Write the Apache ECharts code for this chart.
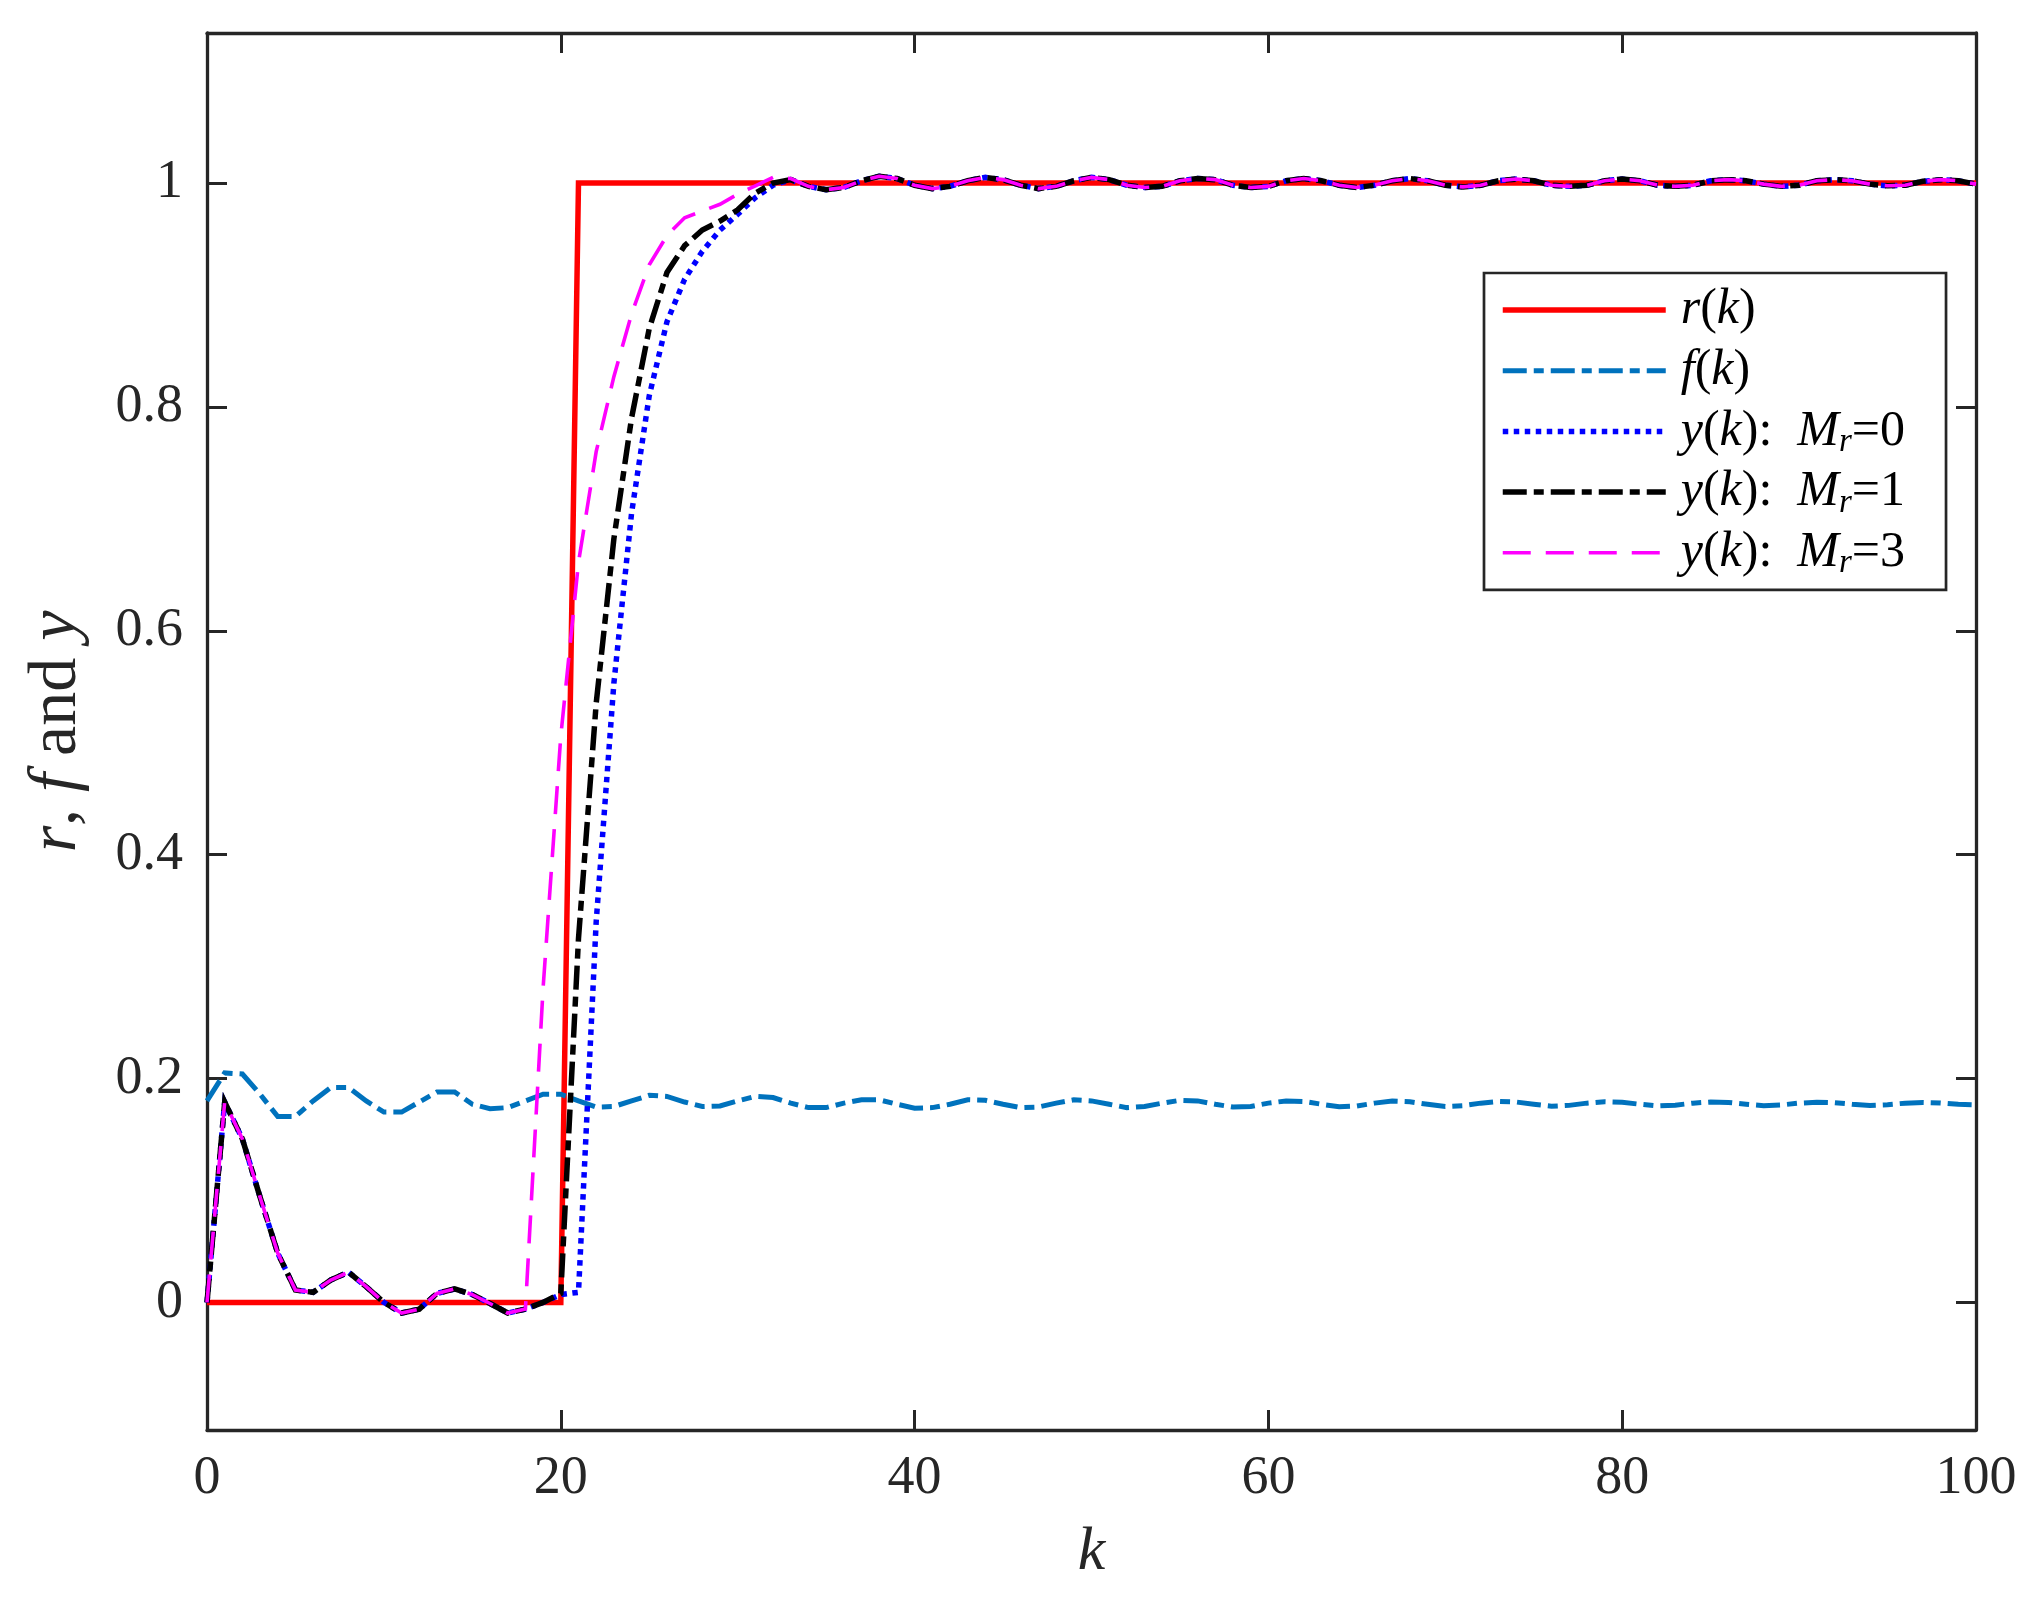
<!DOCTYPE html>
<html>
<head>
<meta charset="utf-8">
<script src="https://cdn.jsdelivr.net/npm/echarts@6/dist/echarts.min.js"></script>
<style>
html,body{margin:0;padding:0;background:#ffffff;}
#chart{width:2037px;height:1607px;}
</style>
</head>
<body>
<div id="chart"></div>
<script>
// ---------------- data ----------------
const kTickLabels = [0, 20, 40, 60, 80, 100];
const yTickLabels = [0, 0.2, 0.4, 0.6, 0.8, 1];

// r(k): reference step
const r = [
  0,0,0,0,0,0,0,0,0,0, 0,0,0,0,0,0,0,0,0,0, 0,
  1,1,1,1,1,1,1,1,1,1, 1,1,1,1,1,1,1,1,1,1,
  1,1,1,1,1,1,1,1,1,1, 1,1,1,1,1,1,1,1,1,1,
  1,1,1,1,1,1,1,1,1,1, 1,1,1,1,1,1,1,1,1,1,
  1,1,1,1,1,1,1,1,1,1, 1,1,1,1,1,1,1,1,1,1
];

// f(k)
const f = [
  0.180, 0.205, 0.204, 0.186, 0.166, 0.166, 0.180, 0.192, 0.192, 0.180,
  0.170, 0.170, 0.179, 0.188, 0.188, 0.177, 0.173, 0.174, 0.180, 0.186,
  0.186, 0.180, 0.1745, 0.175, 0.180, 0.185, 0.184, 0.179, 0.175, 0.1755,
  0.180, 0.184, 0.183, 0.178, 0.174, 0.174, 0.178, 0.181, 0.181, 0.177,
  0.1735, 0.174, 0.177, 0.181, 0.1805, 0.177, 0.174, 0.1745, 0.178, 0.181,
  0.180, 0.177, 0.174, 0.175, 0.178, 0.1805, 0.180, 0.177, 0.1745, 0.175,
  0.178, 0.180, 0.1795, 0.177, 0.1748, 0.1755, 0.178, 0.1798, 0.1792, 0.177,
  0.175, 0.1758, 0.178, 0.1795, 0.179, 0.177, 0.1752, 0.176, 0.178, 0.1793,
  0.1788, 0.177, 0.1755, 0.1762, 0.178, 0.179, 0.1786, 0.177, 0.1757, 0.1764,
  0.178, 0.1788, 0.1784, 0.177, 0.176, 0.1766, 0.178, 0.1786, 0.1782, 0.177,
  0.1765
];

// y(k), Mr = 0
const yMr0 = [
  0.000, 0.179, 0.146, 0.094, 0.044, 0.011, 0.009, 0.020, 0.027, 0.014,
  0.000, -0.0095, -0.006, 0.008, 0.012, 0.007, -0.001, -0.0095, -0.006, 0.000,
  0.007, 0.009, 0.340, 0.553, 0.705, 0.810, 0.876, 0.914, 0.939, 0.958,
  0.972, 0.987, 0.998, 1.003, 0.997, 0.994, 0.996, 1.002, 1.006, 1.004,
  0.998, 0.995, 0.997, 1.002, 1.005, 1.003, 0.998, 0.995, 0.997, 1.002,
  1.005, 1.003, 0.998, 0.996, 0.997, 1.002, 1.004, 1.003, 0.998, 0.996,
  0.997, 1.002, 1.004, 1.002, 0.998, 0.996, 0.998, 1.002, 1.004, 1.002,
  0.998, 0.9965, 0.998, 1.002, 1.0035, 1.002, 0.998, 0.997, 0.998, 1.002,
  1.0035, 1.002, 0.998, 0.997, 0.998, 1.002, 1.003, 1.002, 0.999, 0.997,
  0.998, 1.002, 1.003, 1.002, 0.999, 0.9975, 0.998, 1.0015, 1.003, 1.002,
  0.999
];

// y(k), Mr = 1
const yMr1 = [
  0.000, 0.179, 0.146, 0.094, 0.044, 0.011, 0.009, 0.020, 0.027, 0.014,
  0.000, -0.0095, -0.006, 0.008, 0.012, 0.007, -0.001, -0.0095, -0.006, 0.000,
  0.008, 0.325, 0.535, 0.682, 0.790, 0.870, 0.920, 0.944, 0.958, 0.966,
  0.976, 0.991, 1.000, 1.003, 0.997, 0.994, 0.996, 1.002, 1.006, 1.004,
  0.998, 0.995, 0.997, 1.002, 1.005, 1.003, 0.998, 0.995, 0.997, 1.002,
  1.005, 1.003, 0.998, 0.996, 0.997, 1.002, 1.004, 1.003, 0.998, 0.996,
  0.997, 1.002, 1.004, 1.002, 0.998, 0.996, 0.998, 1.002, 1.004, 1.002,
  0.998, 0.9965, 0.998, 1.002, 1.0035, 1.002, 0.998, 0.997, 0.998, 1.002,
  1.0035, 1.002, 0.998, 0.997, 0.998, 1.002, 1.003, 1.002, 0.999, 0.997,
  0.998, 1.002, 1.003, 1.002, 0.999, 0.9975, 0.998, 1.0015, 1.003, 1.002,
  0.999
];

// y(k), Mr = 3
const yMr3 = [
  0.000, 0.179, 0.146, 0.094, 0.044, 0.011, 0.009, 0.020, 0.027, 0.014,
  0.000, -0.0095, -0.006, 0.008, 0.012, 0.007, -0.001, -0.0095, -0.006, 0.281,
  0.506, 0.661, 0.760, 0.827, 0.883, 0.927, 0.953, 0.969, 0.975, 0.981,
  0.990, 0.9975, 1.005, 1.004, 0.997, 0.994, 0.996, 1.002, 1.006, 1.004,
  0.998, 0.995, 0.997, 1.002, 1.005, 1.003, 0.998, 0.995, 0.997, 1.002,
  1.005, 1.003, 0.998, 0.996, 0.997, 1.002, 1.004, 1.003, 0.998, 0.996,
  0.997, 1.002, 1.004, 1.002, 0.998, 0.996, 0.998, 1.002, 1.004, 1.002,
  0.998, 0.9965, 0.998, 1.002, 1.0035, 1.002, 0.998, 0.997, 0.998, 1.002,
  1.0035, 1.002, 0.998, 0.997, 0.998, 1.002, 1.003, 1.002, 0.999, 0.997,
  0.998, 1.002, 1.003, 1.002, 0.999, 0.9975, 0.998, 1.0015, 1.003, 1.002,
  0.999
];

// ---------------- chart ----------------
const FONT = 'Liberation Serif';
const AX = '#262626';
const toPairs = arr => arr.map((v, i) => [i, v]);

const legendText = {
  r:  '\u2009{i|r}({i|k})',
  f:  '\u2009{i|f}({i|k})',
  y0: '\u2009{i|y}({i|k}):  {i|M}{s|r}=0',
  y1: '\u2009{i|y}({i|k}):  {i|M}{s|r}=1',
  y3: '\u2009{i|y}({i|k}):  {i|M}{s|r}=3'
};

const styles = {
  r:  { color: '#FF0000', width: 5.5, type: 'solid' },
  f:  { color: '#0072BD', width: 5,   type: [24, 7, 10, 7] },
  y0: { color: '#0000FF', width: 5.5, type: [5.5, 5.5] },
  y1: { color: '#000000', width: 5.5, type: [24, 7, 10, 7] },
  y3: { color: '#FF00FF', width: 3.6, type: [28, 15] }
};
const dataByName = { r: r, f: f, y0: yMr0, y1: yMr1, y3: yMr3 };
const order = ['r', 'f', 'y0', 'y1', 'y3'];

const fmtY = v => {
  for (const t of yTickLabels) { if (Math.abs(t - v) < 1e-6) return String(t); }
  return '';
};

const axisLineStyle = { color: AX, width: 3.3 };
const tickStyle = { show: true, inside: true, length: 20, lineStyle: { color: AX, width: 3 } };
const labelStyle = { fontFamily: FONT, fontSize: 54, color: AX };

const chart = echarts.init(document.getElementById('chart'), null, { renderer: 'canvas' });
chart.setOption({
  animation: false,
  backgroundColor: '#ffffff',
  grid: { left: 207, right: 61, top: 33, bottom: 177, containLabel: false },
  xAxis: [
    {
      type: 'value', position: 'bottom', min: 0, max: 100, interval: 20,
      axisLine: { show: true, onZero: false, lineStyle: axisLineStyle },
      axisTick: tickStyle,
      splitLine: { show: false },
      axisLabel: Object.assign({ margin: 22, formatter: v => (kTickLabels.indexOf(v) >= 0 ? String(v) : '') }, labelStyle),
      name: '{i|k}', nameLocation: 'middle', nameGap: 92,
      nameTextStyle: { fontFamily: FONT, fontSize: 62, color: AX,
        rich: { i: { fontFamily: FONT, fontSize: 62, fontStyle: 'italic', color: AX } } }
    },
    {
      type: 'value', position: 'top', min: 0, max: 100, interval: 20,
      axisLine: { show: true, onZero: false, lineStyle: axisLineStyle },
      axisTick: tickStyle,
      splitLine: { show: false },
      axisLabel: { show: false }
    }
  ],
  yAxis: [
    {
      type: 'value', position: 'left', min: -0.114, max: 1.134,
      minInterval: 0.2, maxInterval: 0.2,
      axisLine: { show: true, onZero: false, lineStyle: axisLineStyle },
      axisTick: tickStyle,
      splitLine: { show: false },
      axisLabel: Object.assign({ margin: 24, formatter: fmtY, showMinLabel: false, showMaxLabel: false }, labelStyle),
      name: '{i|r}, {i|f} and {i|y}', nameLocation: 'middle', nameGap: 116,
      nameTextStyle: { fontFamily: FONT, fontSize: 68, color: AX,
        rich: { i: { fontFamily: FONT, fontSize: 68, fontStyle: 'italic', color: AX } } }
    },
    {
      type: 'value', position: 'right', min: -0.114, max: 1.134,
      minInterval: 0.2, maxInterval: 0.2,
      axisLine: { show: true, onZero: false, lineStyle: axisLineStyle },
      axisTick: tickStyle,
      splitLine: { show: false },
      axisLabel: { show: false }
    }
  ],
  legend: {
    show: true,
    orient: 'vertical',
    left: 1484, top: 273,
    padding: [8, 41, 8, 16],
    itemGap: 2.7,
    itemWidth: 163,
    itemHeight: 14,
    backgroundColor: '#ffffff',
    borderColor: AX,
    borderWidth: 2.7,
    borderRadius: 0,
    data: order.map(n => ({
      name: n,
      itemStyle: { opacity: 0, color: 'rgba(0,0,0,0)', borderWidth: 0 },
      lineStyle: { color: styles[n].color, width: styles[n].width, type: styles[n].type }
    })),
    formatter: name => legendText[name],
    textStyle: {
      fontFamily: FONT, fontSize: 50, color: '#000000', lineHeight: 58,
      rich: {
        i: { fontFamily: FONT, fontSize: 50, fontStyle: 'italic', color: '#000000', lineHeight: 58 },
        s: { fontFamily: FONT, fontSize: 33, fontStyle: 'italic', color: '#000000',
             verticalAlign: 'middle', lineHeight: 36, padding: [22, 0, 0, 0] }
      }
    }
  },
  series: order.map(n => ({
    name: n,
    type: 'line',
    xAxisIndex: 0,
    yAxisIndex: 0,
    data: toPairs(dataByName[n]),
    showSymbol: false,
    symbol: 'none',
    smooth: false,
    clip: true,
    lineStyle: { color: styles[n].color, width: styles[n].width, type: styles[n].type, cap: 'butt', join: 'miter' },
    itemStyle: { color: styles[n].color },
    emphasis: { disabled: true }
  }))
});
</script>
</body>
</html>
